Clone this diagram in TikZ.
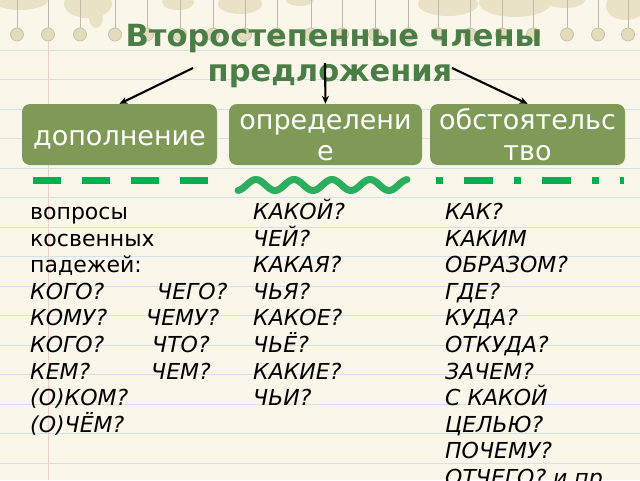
\documentclass[tikz,border=0pt]{standalone}
\usepackage{fontspec}
\setmainfont{DejaVu Sans}
\usetikzlibrary{arrows.meta}
\definecolor{bg}{HTML}{FAF7EA}
\definecolor{ruleblue}{HTML}{D3E2EA}
\definecolor{marginred}{HTML}{F2CFCB}
\definecolor{blot}{HTML}{E9E2C6}
\definecolor{pinline}{HTML}{BDB9AD}
\definecolor{pinfill}{HTML}{E3DBB9}
\definecolor{pindraw}{HTML}{C9C3AD}
\definecolor{titlegreen}{HTML}{4B7D47}
\definecolor{boxgreen}{HTML}{7E9A56}
\definecolor{dashgreen}{HTML}{00B050}
\definecolor{wavegreen}{HTML}{2BAE5D}
\tikzset{
  box/.style={draw=none, fill=boxgreen, rounded corners=8pt, minimum height=61pt, inner sep=0pt},
  boxtext/.style={anchor=base, inner sep=0pt, text=white, font=\fontsize{27}{31}\selectfont},
  titletext/.style={anchor=base, inner sep=0pt, text=titlegreen, font=\fontsize{30.5}{36}\selectfont\bfseries},
  bodytext/.style={anchor=base west, inner sep=0pt, font=\fontsize{22}{26.6}\selectfont},
  bodyit/.style={bodytext, font=\fontsize{22}{26.6}\selectfont\itshape},
  arr/.style={line width=2.1pt, -{Stealth[length=8pt,width=7pt]}},
  rule/.style={ruleblue, line width=0.9pt},
  underline/.style={line width=7pt, line cap=butt},
}
\begin{document}
\begin{tikzpicture}[x=1pt,y=-1pt]
\useasboundingbox (0,0) rectangle (640,480);
\fill[bg] (0,0) rectangle (640,480);
% ruled lines
\foreach \k in {0,...,13} \draw[rule] (0,{79.5+29.5*\k}) -- (640,{79.5+29.5*\k});
\draw[rule] (0,50) -- (640,50);
% margin line
\draw[marginred, line width=0.8pt] (48,40) -- (48,480);
% blotches
\fill[blot] (20,0) ellipse [x radius=28, y radius=10];
\fill[blot] (88,4) ellipse [x radius=24, y radius=14];
\fill[blot] (96,18) ellipse [x radius=7, y radius=10];
\fill[blot] (178,2) ellipse [x radius=16, y radius=8];
\fill[blot] (240,4) ellipse [x radius=22, y radius=10];
\fill[blot] (300,0) ellipse [x radius=14, y radius=6];
\fill[blot] (448,4) ellipse [x radius=30, y radius=12];
\fill[blot] (515,3) ellipse [x radius=36, y radius=14];
\fill[blot] (565,0) ellipse [x radius=20, y radius=8];
\fill[blot] (626,6) ellipse [x radius=20, y radius=14];
% pins
\foreach \px in {17,48,80,115,147,180,213,245,277,311,342,375,408,438,470,502,533,567,598,628} {
  \draw[pinline, line width=0.9pt] (\px,0) -- (\px,28);
  \filldraw[fill=pinfill, draw=pindraw, line width=0.8pt] (\px,34.5) circle [radius=6.5];
}
% title
\node[titletext] (t1) at (334,46) {Второстепенные члены};
\node[titletext] (t2) at (330,81.5) {предложения};
% boxes
\node[box, minimum width=195pt] (b1) at (119.5,134.5) {};
\node[box, minimum width=193pt] (b2) at (325.5,134.5) {};
\node[box, minimum width=195pt] (b3) at (527.5,134.5) {};
\node[boxtext] (b1t) at (119.5,145) {дополнение};
\node[boxtext] (b2t1) at (325.5,129) {определени};
\node[boxtext] (b2t2) at (325.5,160) {е};
\node[boxtext] (b3t1) at (527.5,129) {обстоятельс};
\node[boxtext] (b3t2) at (527.5,160) {тво};
% arrows
\coordinate (s1) at (193,68);
\coordinate (s2) at (325,63);
\coordinate (s3) at (452,68);
\draw[arr] (s1) -- (b1.north);
\draw[arr] (s2) -- (b2.north);
\draw[arr] (s3) -- (b3.north);
% underlines
\draw[underline, dashgreen, dash pattern=on 28pt off 21pt] (33,180) -- (210,180);
\draw[underline, dashgreen, dash pattern=on 7pt off 21pt on 29pt off 21pt] (436,180) -- (624,180);
\draw[wavegreen, line width=7pt, line cap=round, line join=round] plot[domain=238:407, samples=120, smooth] (\x,{185-5.5*cos(9.47368*(\x-256))});
% column 1
\foreach \t [count=\i] in {вопросы,косвенных,падежей:}
  \node[bodytext] (ca\i) at (30,{219.5+26.6*(\i-1)}) {\t};
\foreach \t [count=\i] in {КОГО?,КОМУ?,КОГО?,КЕМ?,(О)КОМ?,(О)ЧЁМ?}
  \node[bodyit] (cb\i) at (30,{299.3+26.6*(\i-1)}) {\t};
\node[bodyit] (cc1) at (157,299.3) {ЧЕГО?};
\node[bodyit] (cc2) at (146,325.9) {ЧЕМУ?};
\node[bodyit] (cc3) at (152,352.5) {ЧТО?};
\node[bodyit] (cc4) at (151,379.1) {ЧЕМ?};
% column 2
\foreach \t [count=\i] in {КАКОЙ?,ЧЕЙ?,КАКАЯ?,ЧЬЯ?,КАКОЕ?,ЧЬЁ?,КАКИЕ?,ЧЬИ?}
  \node[bodyit] (d\i) at (253,{219.5+26.6*(\i-1)}) {\t};
% column 3
\foreach \t [count=\i] in {КАК?,КАКИМ,ОБРАЗОМ?,ГДЕ?,КУДА?,ОТКУДА?,ЗАЧЕМ?,С КАКОЙ,ЦЕЛЬЮ?,ПОЧЕМУ?,ОТЧЕГО? и пр.}
  \node[bodyit] (e\i) at (445,{219.5+26.6*(\i-1)}) {\t};
\end{tikzpicture}
\end{document}
